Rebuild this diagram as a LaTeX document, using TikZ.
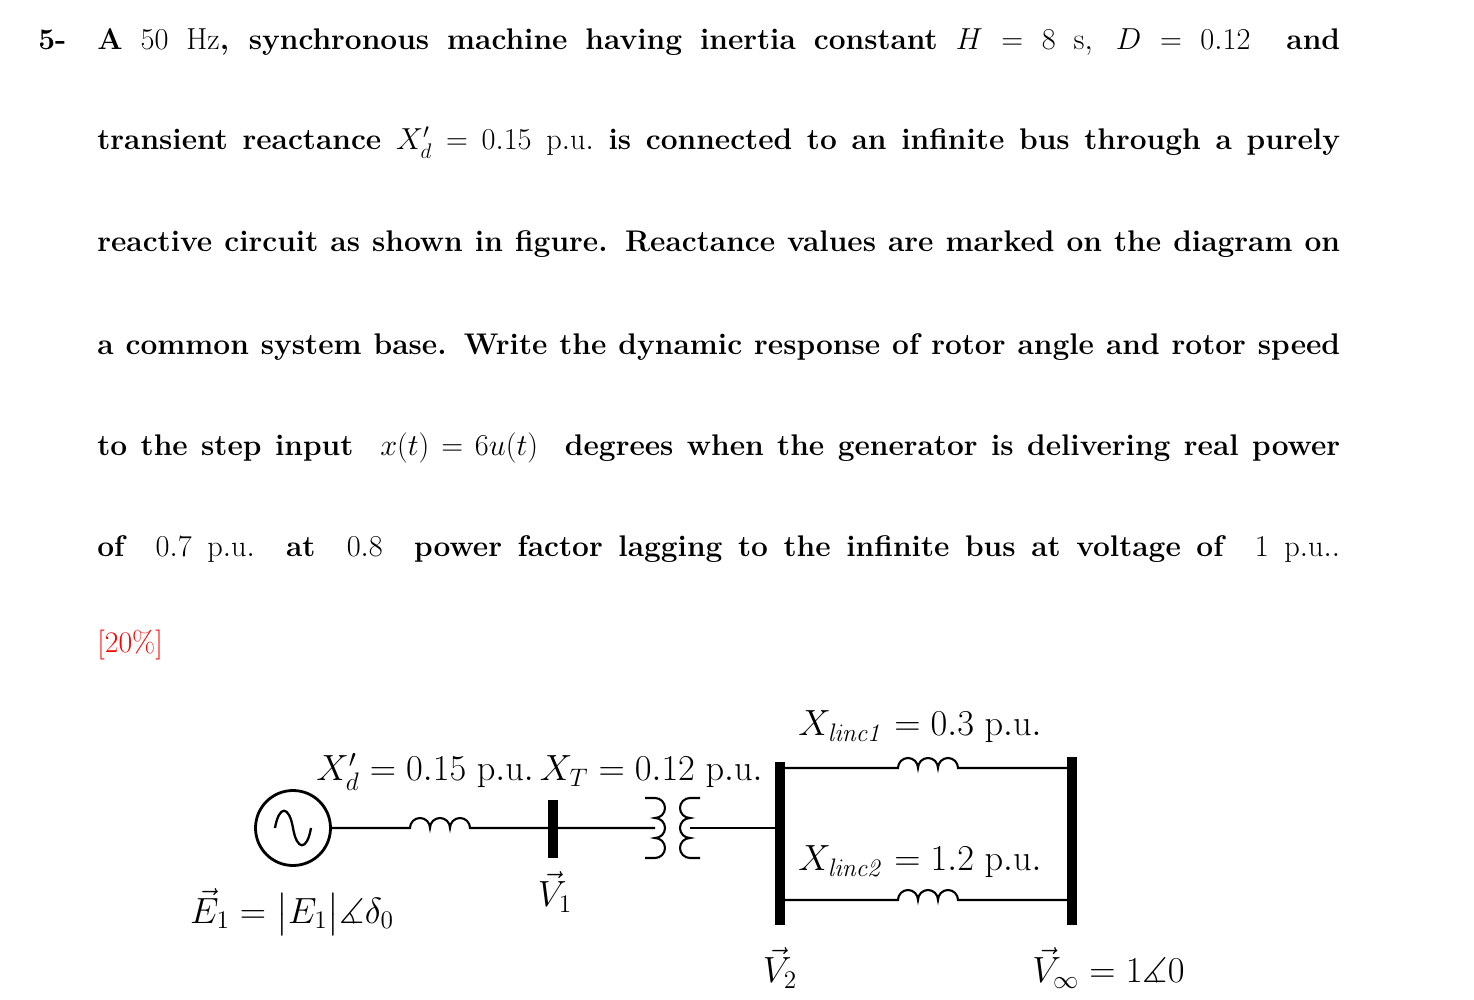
\documentclass[tikz,border=0pt]{standalone}
\usepackage{amsmath,amssymb}
\begin{document}
\begin{tikzpicture}[x=0.02cm,y=-0.02cm,
  txt/.style={anchor=base west,inner sep=0,text width=24.86cm,font=\fontsize{17}{20}\selectfont\bfseries,align=justify,execute at begin node={\parfillskip=0pt\relax}},
  lbl/.style={inner sep=0,font=\fontsize{20}{24}\selectfont},
  wire/.style={line width=1.2pt},
  busbar/.style={line width=6pt}]
\useasboundingbox (0,0) rectangle (1474,1000);
\node[anchor=base west,inner sep=0,font=\fontsize{17}{20}\selectfont\bfseries] (num) at (38,50) {5-};
\node[txt] (l1) at (97,50) {A $50\ \mathrm{Hz}$, synchronous machine having inertia constant $H=8\ \mathrm{s},\ D=0.12$ \ and};
\node[txt] (l2) at (97,150) {transient reactance $X'_d=0.15\ \mathrm{p.u.}$ is connected to an infinite bus through a purely};
\node[txt] (l3) at (97,252) {reactive circuit as shown in figure. Reactance values are marked on the diagram on};
\node[txt] (l4) at (97,354) {a common system base. Write the dynamic response of rotor angle and rotor speed};
\node[txt] (l5) at (97,455) {to the step input \ $x(t)=6u(t)$ \ degrees when the generator is delivering real power};
\node[txt] (l6) at (97,556) {of \ $0.7\ \mathrm{p.u.}$ \ at \ $0.8$ \ power factor lagging to the infinite bus at voltage of \ $1\ \mathrm{p.u.}.$};
\node[anchor=base west,inner sep=0,text=red,font=\fontsize{17}{20}\selectfont] (pct) at (97,652) {[20\%]};
% generator
\node[draw,circle,minimum size=1.5cm,line width=1.6pt,inner sep=0] (gen) at (293,828) {};
\draw[line width=1.3pt] (275,828) .. controls (279,805) and (289,805) .. (gen.center) .. controls (297,851) and (307,851) .. (311,828);
% coordinates
\coordinate (ind1a) at (410,828);
\coordinate (b1) at (553,828);
\coordinate (b1t) at (553,800); \coordinate (b1b) at (553,858);
\coordinate (t1) at (655,828);
\coordinate (t2) at (690,828);
\coordinate (b2) at (780,828);
\coordinate (b2t) at (780,762); \coordinate (b2b) at (780,925);
\coordinate (b3t) at (1072,757); \coordinate (b3b) at (1072,925);
\coordinate (u1) at (780,768); \coordinate (u2) at (1072,768);
\coordinate (d1) at (780,900); \coordinate (d2) at (1072,900);
\draw[busbar] (b1t) -- (b1b);
\draw[busbar] (b2t) -- (b2b);
\draw[busbar] (b3t) -- (b3b);
\draw[wire] (gen.east) -- (ind1a) arc(180:0:0.2cm) arc(180:0:0.2cm) arc(180:0:0.2cm) -- (b1) -- (t1);
\draw[wire] (t2) -- (b2);
% transformer
\draw[wire] (645,798) -- (655,798) arc(90:-90:0.2cm) arc(90:-90:0.2cm) arc(90:-90:0.2cm) -- (645,858);
\draw[wire] (700,798) -- (690,798) arc(90:270:0.2cm) arc(90:270:0.2cm) arc(90:270:0.2cm) -- (700,858);
% lines
\draw[wire] (u1) -- (898,768) arc(180:0:0.2cm) arc(180:0:0.2cm) arc(180:0:0.2cm) -- (u2);
\draw[wire] (d1) -- (898,900) arc(180:0:0.2cm) arc(180:0:0.2cm) arc(180:0:0.2cm) -- (d2);
% labels
\node[lbl,anchor=west] (lxd) at (316,772) {$X'_d=0.15\ \mathrm{p.u.}\,X_T=0.12\ \mathrm{p.u.}$};
\node[lbl,anchor=west] (lx1) at (798,727) {$X_{\mathit{linc1}}=0.3\ \mathrm{p.u.}$};
\node[lbl,anchor=west] (lx2) at (798,862) {$X_{\mathit{linc2}}=1.2\ \mathrm{p.u.}$};
\node[lbl] (le) at (292,912) {$\vec{E}_1=\bigl|E_1\bigr|\measuredangle\delta_0$};
\node[lbl] (lv1) at (555,892) {$\vec{V}_1$};
\node[lbl] (lv2) at (780,968) {$\vec{V}_2$};
\node[lbl,anchor=west] (lvi) at (1032,968) {$\vec{V}_\infty=1\measuredangle0$};
\end{tikzpicture}
\end{document}
